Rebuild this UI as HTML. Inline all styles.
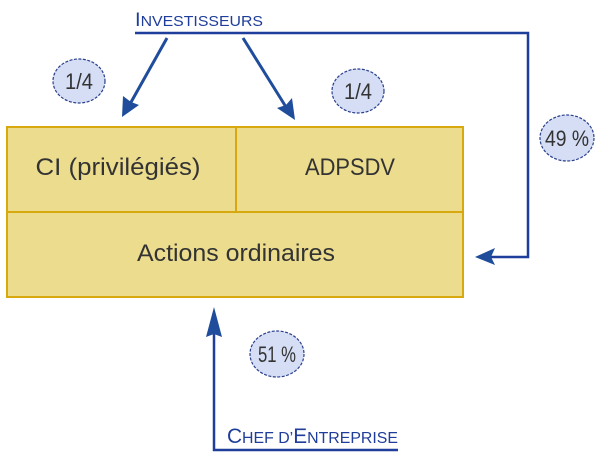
<!DOCTYPE html>
<html><head><meta charset="utf-8"><style>
html,body{margin:0;padding:0;background:#fff;width:600px;height:457px;overflow:hidden}
svg{display:block}
text{font-family:"Liberation Sans",sans-serif}
</style></head><body>
<svg width="600" height="457" viewBox="0 0 600 457" xmlns="http://www.w3.org/2000/svg">
<!-- boxes -->
<rect x="7" y="127" width="456" height="170" fill="#ecdc8e" stroke="#d8a90f" stroke-width="2"/>
<line x1="7" y1="212" x2="463" y2="212" stroke="#d8a90f" stroke-width="2"/>
<line x1="236" y1="127" x2="236" y2="212" stroke="#d8a90f" stroke-width="2"/>
<text x="118" y="175" font-size="24" fill="#333" text-anchor="middle" textLength="165" lengthAdjust="spacingAndGlyphs">CI (privilégiés)</text>
<text x="350" y="175" font-size="24" fill="#333" text-anchor="middle" textLength="90" lengthAdjust="spacingAndGlyphs">ADPSDV</text>
<text x="236" y="261" font-size="24" fill="#333" text-anchor="middle" textLength="198" lengthAdjust="spacingAndGlyphs">Actions ordinaires</text>
<!-- investisseurs -->
<text x="135" y="26" font-size="19" fill="#1f3d9a" textLength="128" lengthAdjust="spacingAndGlyphs">I<tspan font-size="15">NVESTISSEURS</tspan></text>
<polyline points="135,33 528,33 528,257 490,257" fill="none" stroke="#1f3d9a" stroke-width="2.5"/>
<path d="M475,257 L495,248 L491,257 L495,265 Z" fill="#1f4d9c"/>
<line x1="167" y1="38" x2="130" y2="104" stroke="#1f4d9c" stroke-width="3"/>
<path d="M122,117 L123,96 L131,102 L139,105 Z" fill="#1f4d9c"/>
<line x1="243" y1="38" x2="286" y2="107" stroke="#1f4d9c" stroke-width="3"/>
<path d="M295,120 L277,108 L286,105 L292,98 Z" fill="#1f4d9c"/>
<!-- chef -->
<polyline points="398,450 214,450 214,332" fill="none" stroke="#1f3d9a" stroke-width="2.5"/>
<path d="M214,307 L222,337 L214,334 L206,337 Z" fill="#1f4d9c"/>
<text x="227" y="443" font-size="21" fill="#1f3d9a" textLength="171" lengthAdjust="spacingAndGlyphs">C<tspan font-size="16">HEF D’</tspan>E<tspan font-size="16">NTREPRISE</tspan></text>
<!-- circles -->
<g fill="#d5def5" stroke="#2a3f8c" stroke-width="1.2" stroke-dasharray="3,1.5">
<ellipse cx="79" cy="81" rx="26" ry="22"/>
<ellipse cx="358" cy="91" rx="26" ry="22"/>
<ellipse cx="567" cy="138" rx="27" ry="23"/>
<ellipse cx="277" cy="354" rx="27" ry="23"/>
</g>
<g font-size="22" fill="#333" text-anchor="middle">
<text x="79" y="89" textLength="28" lengthAdjust="spacingAndGlyphs">1/4</text>
<text x="358" y="99" textLength="28" lengthAdjust="spacingAndGlyphs">1/4</text>
<text x="567" y="146" textLength="44" lengthAdjust="spacingAndGlyphs">49 %</text>
<text x="277" y="362" textLength="38" lengthAdjust="spacingAndGlyphs">51 %</text>
</g>
</svg>
</body></html>
